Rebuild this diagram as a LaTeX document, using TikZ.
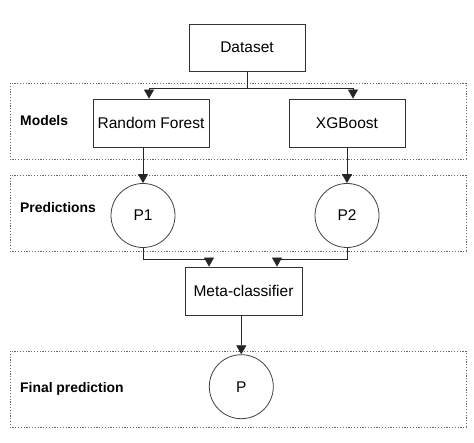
\documentclass[tikz,border=0pt]{standalone}
\usepackage{fontspec}
\setmainfont{Liberation Sans}
\usetikzlibrary{arrows.meta,calc}
\begin{document}
\begin{tikzpicture}[x=1pt,y=-1pt,
  box/.style={draw=black!80,line width=0.8pt,minimum width=116pt,minimum height=48pt,inner sep=0pt,font=\fontsize{15.5}{18}\selectfont},
  circ/.style={draw=black!75,line width=0.8pt,circle,minimum size=64pt,inner sep=0pt,font=\fontsize{15.5}{18}\selectfont},
  group/.style={draw=black!60,line width=0.8pt,dash pattern=on 1.2pt off 1.6pt},
  lbl/.style={anchor=west,inner sep=0pt,font=\bfseries\fontsize{13.9}{16}\selectfont},
  arr/.style={draw=black!85,line width=0.8pt,-{Triangle[width=10pt,length=9pt]}}
]
\useasboundingbox (0,0) rectangle (474,443);
% groups
\draw[group] (10,83) rectangle (466,159);
\draw[group] (10,175) rectangle (466,251);
\draw[group] (10,351) rectangle (466,427);
\node[lbl] (lm) at (20,121) {Models};
\node[lbl] (lp) at (20,208) {Predictions};
\node[lbl] (lf) at (20,389) {Final prediction};
% nodes
\node[box,minimum height=47pt] (ds) at (247,47.5) {Dataset};
\node[box] (rf) at (151,123) {Random Forest};
\node[box] (xg) at (347,123) {XGBoost};
\node[circ] (p1) at (143,215.5) {P1};
\node[circ] (p2) at (347,215.5) {P2};
\node[box,minimum width=117pt] (mc) at (243.5,291) {Meta-classifier};
\node[circ] (p) at (241.3,386.7) {P};
% connectors
\draw[arr] (ds.south) -- ++(0,17) -| ([xshift=-2pt]rf.north);
\draw[arr] (ds.south) -- ++(0,17) -| ([xshift=6pt]xg.north);
\draw[arr] (rf.south -| p1.north) -- (p1.north);
\draw[arr] (xg.south -| p2.north) -- (p2.north);
\draw[arr] (p1.south) -- ++(0,12) -| ([xshift=-34.5pt]mc.north);
\draw[arr] (p2.south) -- ++(0,12) -| ([xshift=33.5pt]mc.north);
\draw[arr] (mc.south -| p.north) -- (p.north);
\end{tikzpicture}
\end{document}
